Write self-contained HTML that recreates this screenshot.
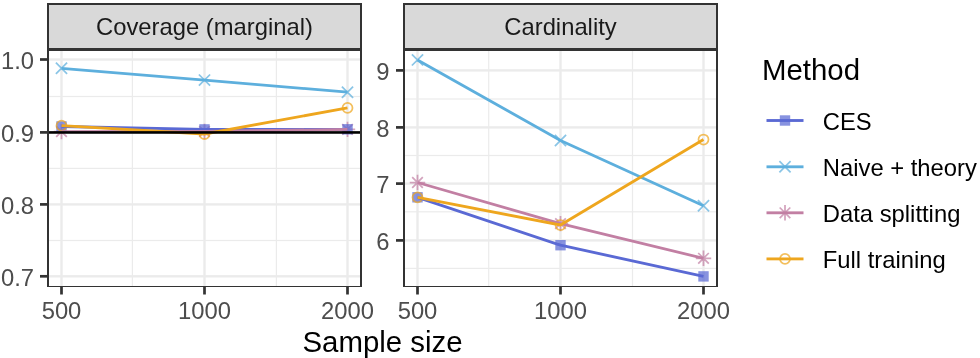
<!DOCTYPE html><html><head><meta charset="utf-8"><style>html,body{margin:0;padding:0;background:#fff;overflow:hidden;width:980px;height:358px;}svg{display:block;} text{will-change:transform}</style></head><body><svg width="980" height="358" viewBox="0 0 980 358" font-family="Liberation Sans, sans-serif">
<rect width="980" height="358" fill="#FFFFFF"/>
<rect x="47" y="3" width="315" height="48" fill="#333333"/>
<rect x="49" y="5" width="311" height="43" fill="#D9D9D9"/>
<rect x="47" y="48" width="315" height="239" fill="#333333"/>
<rect x="49" y="51" width="311" height="235" fill="#FFFFFF"/>
<rect x="49" y="95.9" width="311" height="1.2" fill="#EBEBEB"/>
<rect x="49" y="167.8" width="311" height="1.2" fill="#EBEBEB"/>
<rect x="49" y="239.9" width="311" height="1.2" fill="#EBEBEB"/>
<rect x="131.8" y="51" width="1.2" height="235" fill="#EBEBEB"/>
<rect x="275.79999999999995" y="51" width="1.2" height="235" fill="#EBEBEB"/>
<rect x="49" y="58.3" width="311" height="2.4" fill="#EBEBEB"/>
<rect x="49" y="131.20000000000002" width="311" height="2.4" fill="#EBEBEB"/>
<rect x="49" y="203.20000000000002" width="311" height="2.4" fill="#EBEBEB"/>
<rect x="49" y="275.1" width="311" height="2.4" fill="#EBEBEB"/>
<rect x="60.3" y="51" width="2.4" height="235" fill="#EBEBEB"/>
<rect x="203.3" y="51" width="2.4" height="235" fill="#EBEBEB"/>
<rect x="346.3" y="51" width="2.4" height="235" fill="#EBEBEB"/>
<text x="204.5" y="34.6" text-anchor="middle" font-size="23.8" fill="#1A1A1A">Coverage (marginal)</text>
<rect x="40" y="58.15" width="7" height="2.7" fill="#333333"/>
<text x="34" y="68.9" text-anchor="end" font-size="23.8" fill="#4D4D4D">1.0</text>
<rect x="40" y="131.05" width="7" height="2.7" fill="#333333"/>
<text x="34" y="141.8" text-anchor="end" font-size="23.8" fill="#4D4D4D">0.9</text>
<rect x="40" y="203.05" width="7" height="2.7" fill="#333333"/>
<text x="34" y="213.8" text-anchor="end" font-size="23.8" fill="#4D4D4D">0.8</text>
<rect x="40" y="274.95" width="7" height="2.7" fill="#333333"/>
<text x="34" y="285.7" text-anchor="end" font-size="23.8" fill="#4D4D4D">0.7</text>
<rect x="60.15" y="287" width="2.7" height="7.5" fill="#333333"/>
<text x="61.5" y="318.5" text-anchor="middle" font-size="23.8" fill="#4D4D4D">500</text>
<rect x="203.15" y="287" width="2.7" height="7.5" fill="#333333"/>
<text x="204.5" y="318.5" text-anchor="middle" font-size="23.8" fill="#4D4D4D">1000</text>
<rect x="346.15" y="287" width="2.7" height="7.5" fill="#333333"/>
<text x="347.5" y="318.5" text-anchor="middle" font-size="23.8" fill="#4D4D4D">2000</text>
<path d="M55.9,62.699999999999996L67.1,73.89999999999999M55.9,73.89999999999999L67.1,62.699999999999996" stroke="#5DAFDD" stroke-width="1.75" stroke-opacity="0.72" fill="none"/>
<path d="M198.9,74.5L210.1,85.69999999999999M198.9,85.69999999999999L210.1,74.5" stroke="#5DAFDD" stroke-width="1.75" stroke-opacity="0.72" fill="none"/>
<path d="M341.9,86.60000000000001L353.1,97.8M341.9,97.8L353.1,86.60000000000001" stroke="#5DAFDD" stroke-width="1.75" stroke-opacity="0.72" fill="none"/>
<path d="M53.8,131.6L69.2,131.6M61.5,123.89999999999999L61.5,139.29999999999998M56.2,126.3L66.8,136.9M56.2,136.9L66.8,126.3" stroke="#C27FA3" stroke-width="1.75" stroke-opacity="0.72" fill="none"/>
<path d="M196.8,131.5L212.2,131.5M204.5,123.8L204.5,139.2M199.2,126.2L209.8,136.8M199.2,136.8L209.8,126.2" stroke="#C27FA3" stroke-width="1.75" stroke-opacity="0.72" fill="none"/>
<path d="M339.8,129.4L355.2,129.4M347.5,121.7L347.5,137.1M342.2,124.10000000000001L352.8,134.70000000000002M342.2,134.70000000000002L352.8,124.10000000000001" stroke="#C27FA3" stroke-width="1.75" stroke-opacity="0.72" fill="none"/>
<rect x="56.3" y="121.3" width="10.4" height="10.4" fill="#5A69D4" fill-opacity="0.72"/>
<rect x="199.3" y="124.2" width="10.4" height="10.4" fill="#5A69D4" fill-opacity="0.72"/>
<rect x="342.3" y="124.10000000000001" width="10.4" height="10.4" fill="#5A69D4" fill-opacity="0.72"/>
<circle cx="61.5" cy="125.7" r="5.0" stroke="#EEA61E" stroke-width="1.75" stroke-opacity="0.72" fill="none"/>
<circle cx="204.5" cy="134.0" r="5.0" stroke="#EEA61E" stroke-width="1.75" stroke-opacity="0.72" fill="none"/>
<circle cx="347.5" cy="107.9" r="5.0" stroke="#EEA61E" stroke-width="1.75" stroke-opacity="0.72" fill="none"/>
<polyline points="61.5,126.5 204.5,129.4 347.5,129.3" fill="none" stroke="#5A69D4" stroke-opacity="1" stroke-width="2.85" stroke-linejoin="round" stroke-linecap="butt"/>
<polyline points="61.5,68.3 204.5,80.1 347.5,92.2" fill="none" stroke="#5DAFDD" stroke-opacity="1" stroke-width="2.85" stroke-linejoin="round" stroke-linecap="butt"/>
<polyline points="61.5,131.6 204.5,131.5 347.5,129.4" fill="none" stroke="#C27FA3" stroke-opacity="1" stroke-width="2.85" stroke-linejoin="round" stroke-linecap="butt"/>
<polyline points="61.5,125.7 204.5,134.0 347.5,107.9" fill="none" stroke="#EEA61E" stroke-opacity="1" stroke-width="2.85" stroke-linejoin="round" stroke-linecap="butt"/>
<rect x="49" y="131.14999999999998" width="311" height="2.6" fill="#000"/>
<rect x="403" y="3" width="315" height="48" fill="#333333"/>
<rect x="405" y="5" width="311" height="43" fill="#D9D9D9"/>
<rect x="403" y="48" width="315" height="239" fill="#333333"/>
<rect x="405" y="51" width="311" height="235" fill="#FFFFFF"/>
<rect x="405" y="98.4" width="311" height="1.2" fill="#EBEBEB"/>
<rect x="405" y="154.9" width="311" height="1.2" fill="#EBEBEB"/>
<rect x="405" y="211.20000000000002" width="311" height="1.2" fill="#EBEBEB"/>
<rect x="405" y="267.79999999999995" width="311" height="1.2" fill="#EBEBEB"/>
<rect x="488.09999999999997" y="51" width="1.2" height="235" fill="#EBEBEB"/>
<rect x="631.9" y="51" width="1.2" height="235" fill="#EBEBEB"/>
<rect x="405" y="69.2" width="311" height="2.4" fill="#EBEBEB"/>
<rect x="405" y="126.2" width="311" height="2.4" fill="#EBEBEB"/>
<rect x="405" y="182.4" width="311" height="2.4" fill="#EBEBEB"/>
<rect x="405" y="239.20000000000002" width="311" height="2.4" fill="#EBEBEB"/>
<rect x="416.3" y="51" width="2.4" height="235" fill="#EBEBEB"/>
<rect x="559.3" y="51" width="2.4" height="235" fill="#EBEBEB"/>
<rect x="702.3" y="51" width="2.4" height="235" fill="#EBEBEB"/>
<text x="560.5" y="34.6" text-anchor="middle" font-size="23.8" fill="#1A1A1A">Cardinality</text>
<rect x="396" y="69.05000000000001" width="7" height="2.7" fill="#333333"/>
<text x="389.5" y="79.80000000000001" text-anchor="end" font-size="23.8" fill="#4D4D4D">9</text>
<rect x="396" y="126.05000000000001" width="7" height="2.7" fill="#333333"/>
<text x="389.5" y="136.8" text-anchor="end" font-size="23.8" fill="#4D4D4D">8</text>
<rect x="396" y="182.25" width="7" height="2.7" fill="#333333"/>
<text x="389.5" y="193.0" text-anchor="end" font-size="23.8" fill="#4D4D4D">7</text>
<rect x="396" y="239.05" width="7" height="2.7" fill="#333333"/>
<text x="389.5" y="249.8" text-anchor="end" font-size="23.8" fill="#4D4D4D">6</text>
<rect x="416.15" y="287" width="2.7" height="7.5" fill="#333333"/>
<text x="417.5" y="318.5" text-anchor="middle" font-size="23.8" fill="#4D4D4D">500</text>
<rect x="559.15" y="287" width="2.7" height="7.5" fill="#333333"/>
<text x="560.5" y="318.5" text-anchor="middle" font-size="23.8" fill="#4D4D4D">1000</text>
<rect x="702.15" y="287" width="2.7" height="7.5" fill="#333333"/>
<text x="703.5" y="318.5" text-anchor="middle" font-size="23.8" fill="#4D4D4D">2000</text>
<path d="M411.9,54.3L423.1,65.5M411.9,65.5L423.1,54.3" stroke="#5DAFDD" stroke-width="1.75" stroke-opacity="0.72" fill="none"/>
<path d="M554.9,134.9L566.1,146.1M554.9,146.1L566.1,134.9" stroke="#5DAFDD" stroke-width="1.75" stroke-opacity="0.72" fill="none"/>
<path d="M697.9,200.1L709.1,211.29999999999998M697.9,211.29999999999998L709.1,200.1" stroke="#5DAFDD" stroke-width="1.75" stroke-opacity="0.72" fill="none"/>
<path d="M409.8,182.5L425.2,182.5M417.5,174.8L417.5,190.2M412.2,177.2L422.8,187.8M412.2,187.8L422.8,177.2" stroke="#C27FA3" stroke-width="1.75" stroke-opacity="0.72" fill="none"/>
<path d="M552.8,223.6L568.2,223.6M560.5,215.9L560.5,231.29999999999998M555.2,218.29999999999998L565.8,228.9M555.2,228.9L565.8,218.29999999999998" stroke="#C27FA3" stroke-width="1.75" stroke-opacity="0.72" fill="none"/>
<path d="M695.8,258.3L711.2,258.3M703.5,250.60000000000002L703.5,266.0M698.2,253.0L708.8,263.6M698.2,263.6L708.8,253.0" stroke="#C27FA3" stroke-width="1.75" stroke-opacity="0.72" fill="none"/>
<rect x="412.3" y="192.10000000000002" width="10.4" height="10.4" fill="#5A69D4" fill-opacity="0.72"/>
<rect x="555.3" y="240.0" width="10.4" height="10.4" fill="#5A69D4" fill-opacity="0.72"/>
<rect x="698.3" y="271.2" width="10.4" height="10.4" fill="#5A69D4" fill-opacity="0.72"/>
<circle cx="417.5" cy="197.3" r="5.0" stroke="#EEA61E" stroke-width="1.75" stroke-opacity="0.72" fill="none"/>
<circle cx="560.5" cy="225.0" r="5.0" stroke="#EEA61E" stroke-width="1.75" stroke-opacity="0.72" fill="none"/>
<circle cx="703.5" cy="139.5" r="5.0" stroke="#EEA61E" stroke-width="1.75" stroke-opacity="0.72" fill="none"/>
<polyline points="417.5,197.3 560.5,245.2 703.5,276.4" fill="none" stroke="#5A69D4" stroke-opacity="1" stroke-width="2.85" stroke-linejoin="round" stroke-linecap="butt"/>
<polyline points="417.5,59.9 560.5,140.5 703.5,205.7" fill="none" stroke="#5DAFDD" stroke-opacity="1" stroke-width="2.85" stroke-linejoin="round" stroke-linecap="butt"/>
<polyline points="417.5,182.5 560.5,223.6 703.5,258.3" fill="none" stroke="#C27FA3" stroke-opacity="1" stroke-width="2.85" stroke-linejoin="round" stroke-linecap="butt"/>
<polyline points="417.5,197.3 560.5,225.0 703.5,139.5" fill="none" stroke="#EEA61E" stroke-opacity="1" stroke-width="2.85" stroke-linejoin="round" stroke-linecap="butt"/>
<text x="382.5" y="351.6" text-anchor="middle" font-size="29.4" fill="#000">Sample size</text>
<text x="762" y="79.6" font-size="29.4" fill="#000">Method</text>
<rect x="779.8" y="115.3" width="10.4" height="10.4" fill="#5A69D4" fill-opacity="0.72"/>
<rect x="766.5" y="119.08" width="37" height="2.85" fill="#5A69D4" fill-opacity="1"/>
<text x="822.8" y="129.5" font-size="23.8" fill="#000">CES</text>
<path d="M779.4,161.20000000000002L790.6,172.4M779.4,172.4L790.6,161.20000000000002" stroke="#5DAFDD" stroke-width="1.75" stroke-opacity="0.72" fill="none"/>
<rect x="766.5" y="165.38000000000002" width="37" height="2.85" fill="#5DAFDD" fill-opacity="1"/>
<text x="822.8" y="175.8" font-size="23.8" fill="#000">Naive + theory</text>
<path d="M777.3,212.8L792.7,212.8M785,205.10000000000002L785,220.5M779.7,207.5L790.3,218.10000000000002M779.7,218.10000000000002L790.3,207.5" stroke="#C27FA3" stroke-width="1.75" stroke-opacity="0.72" fill="none"/>
<rect x="766.5" y="211.38000000000002" width="37" height="2.85" fill="#C27FA3" fill-opacity="1"/>
<text x="822.8" y="221.8" font-size="23.8" fill="#000">Data splitting</text>
<circle cx="785" cy="258.9" r="5.0" stroke="#EEA61E" stroke-width="1.75" stroke-opacity="0.72" fill="none"/>
<rect x="766.5" y="257.47999999999996" width="37" height="2.85" fill="#EEA61E" fill-opacity="1"/>
<text x="822.8" y="267.9" font-size="23.8" fill="#000">Full training</text>
</svg></body></html>
